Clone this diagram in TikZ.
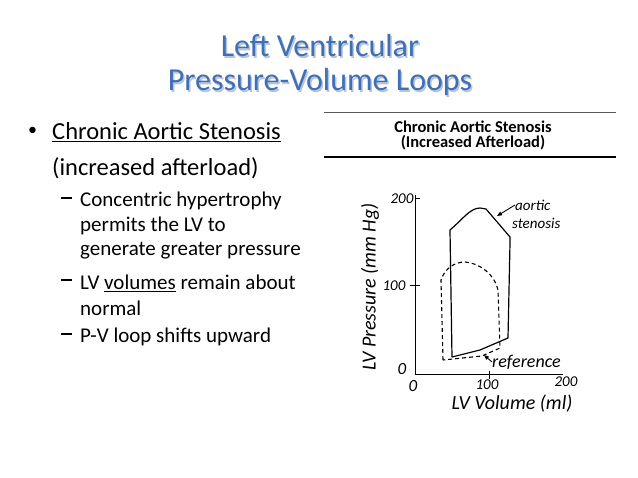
\documentclass[tikz,border=0pt]{standalone}
\usepackage{fontspec}
\setmainfont{Carlito}
\usetikzlibrary{arrows.meta}
\definecolor{tblue}{HTML}{3F6FB5}
\definecolor{tshadow}{HTML}{B8C4D8}
\begin{document}
\begin{tikzpicture}[x=1pt,y=-1pt,
  btxt/.style={anchor=west,font=\fontsize{24.5}{28}\selectfont,inner sep=0},
  stxt/.style={anchor=west,font=\fontsize{21}{25}\selectfont,inner sep=0},
  dsh/.style={anchor=west,inner sep=0},
  hand/.style={font=\itshape\fontsize{15}{17}\selectfont,inner sep=0},
  ttl/.style={font=\fontsize{32}{38}\selectfont,inner sep=0}]
\useasboundingbox (0,0) rectangle (638,478);
% title
\foreach \dx/\c in {1.5/tshadow,0/tblue}{
  \node[ttl,text=\c] (t1\c) at (320+\dx,46+\dx) {Left Ventricular};
  \node[ttl,text=\c] (t2\c) at (320+\dx,82+\dx) {Pressure-Volume Loops};
}
% bullets
\node[anchor=west,font=\fontsize{18}{20}\selectfont,inner sep=0] (b0) at (28,131) {•};
\node[btxt] (b1) at (52,132) {\underline{Chronic Aortic Stenosis}};
\node[btxt] (b2) at (52,168) {(increased afterload)};
\node[dsh] (d1) at (61,198) {\rule{11pt}{1.2pt}};
\node[stxt] (s1) at (80,201) {Concentric hypertrophy};
\node[stxt] (s2) at (80,226) {permits the LV to};
\node[stxt] (s3) at (80,251) {generate greater pressure};
\node[dsh] (d2) at (61,280) {\rule{11pt}{1.2pt}};
\node[stxt] (s4) at (80,283) {LV \underline{volumes} remain about};
\node[stxt] (s5) at (80,308) {normal};
\node[dsh] (d3) at (61,334) {\rule{11pt}{1.2pt}};
\node[stxt] (s6) at (80,337) {P-V loop shifts upward};
% figure header
\draw[line width=0.6pt,gray!70!black] (324,112) -- (616,112);
\draw[line width=2pt] (324,157) -- (616,157);
\node[font=\bfseries\fontsize{16.5}{19}\selectfont,inner sep=0] (h1) at (473,127) {Chronic Aortic Stenosis};
\node[font=\bfseries\fontsize{16.5}{19}\selectfont,inner sep=0] (h2) at (473,143) {(Increased Afterload)};
% axes
\coordinate (o) at (415,375);
\coordinate (yt) at (415,195);
\coordinate (xe) at (563,375);
\draw[line width=1pt] (yt) -- (o) -- (xe);
\draw[line width=1pt] (415,199) -- (420,199);
\draw[line width=1pt] (410,286) -- (420,286);
\draw[line width=1pt] (489,371) -- (489,379);
\node[hand] (l200) at (402,199) {200};
\node[hand] (l100) at (394,286) {100};
\node[hand,font=\itshape\fontsize{17}{19}\selectfont] (l0) at (402,369) {0};
\node[hand,font=\itshape\fontsize{17}{19}\selectfont] (x0) at (413,386) {0};
\node[hand] (x100) at (487,385) {100};
\node[hand] (x200) at (566,382) {200};
\node[hand,font=\itshape\fontsize{20}{24}\selectfont,rotate=90] (ylab) at (370,287) {LV Pressure (mm Hg)};
\node[hand,font=\itshape\fontsize{20}{24}\selectfont] (xlab) at (512,404) {LV Volume (ml)};
% loops
\draw[line width=1.2pt,line join=round] (452,357) -- (450,230) .. controls (462,220) and (470,208) .. (480,208)
  -- (486,209) -- (510,237) -- (510,243) -- (508,338) -- (480,350) -- cycle;
\draw[line width=1.1pt,dashed,dash pattern=on 4pt off 3pt] (443,360) -- (441,280) .. controls (445,268) and (455,262) .. (465,262)
  .. controls (480,263) and (495,275) .. (498,290) -- (500,348) -- (482,356) -- cycle;
% annotations
\node[hand,anchor=west,font=\itshape\fontsize{15}{17}\selectfont] (as1) at (515,205) {aortic};
\node[hand,anchor=west,font=\itshape\fontsize{15}{17}\selectfont] (as2) at (512,223) {stenosis};
\draw[-{Triangle[length=5pt,width=4pt]},line width=0.9pt] (as1.west) -- (497,216);
\node[hand,anchor=west,font=\itshape\fontsize{18}{20}\selectfont] (ref) at (492,362) {reference};
\draw[-{Triangle[length=5pt,width=4pt]},line width=0.9pt] (ref.west) -- (484,355);
\end{tikzpicture}
\end{document}
